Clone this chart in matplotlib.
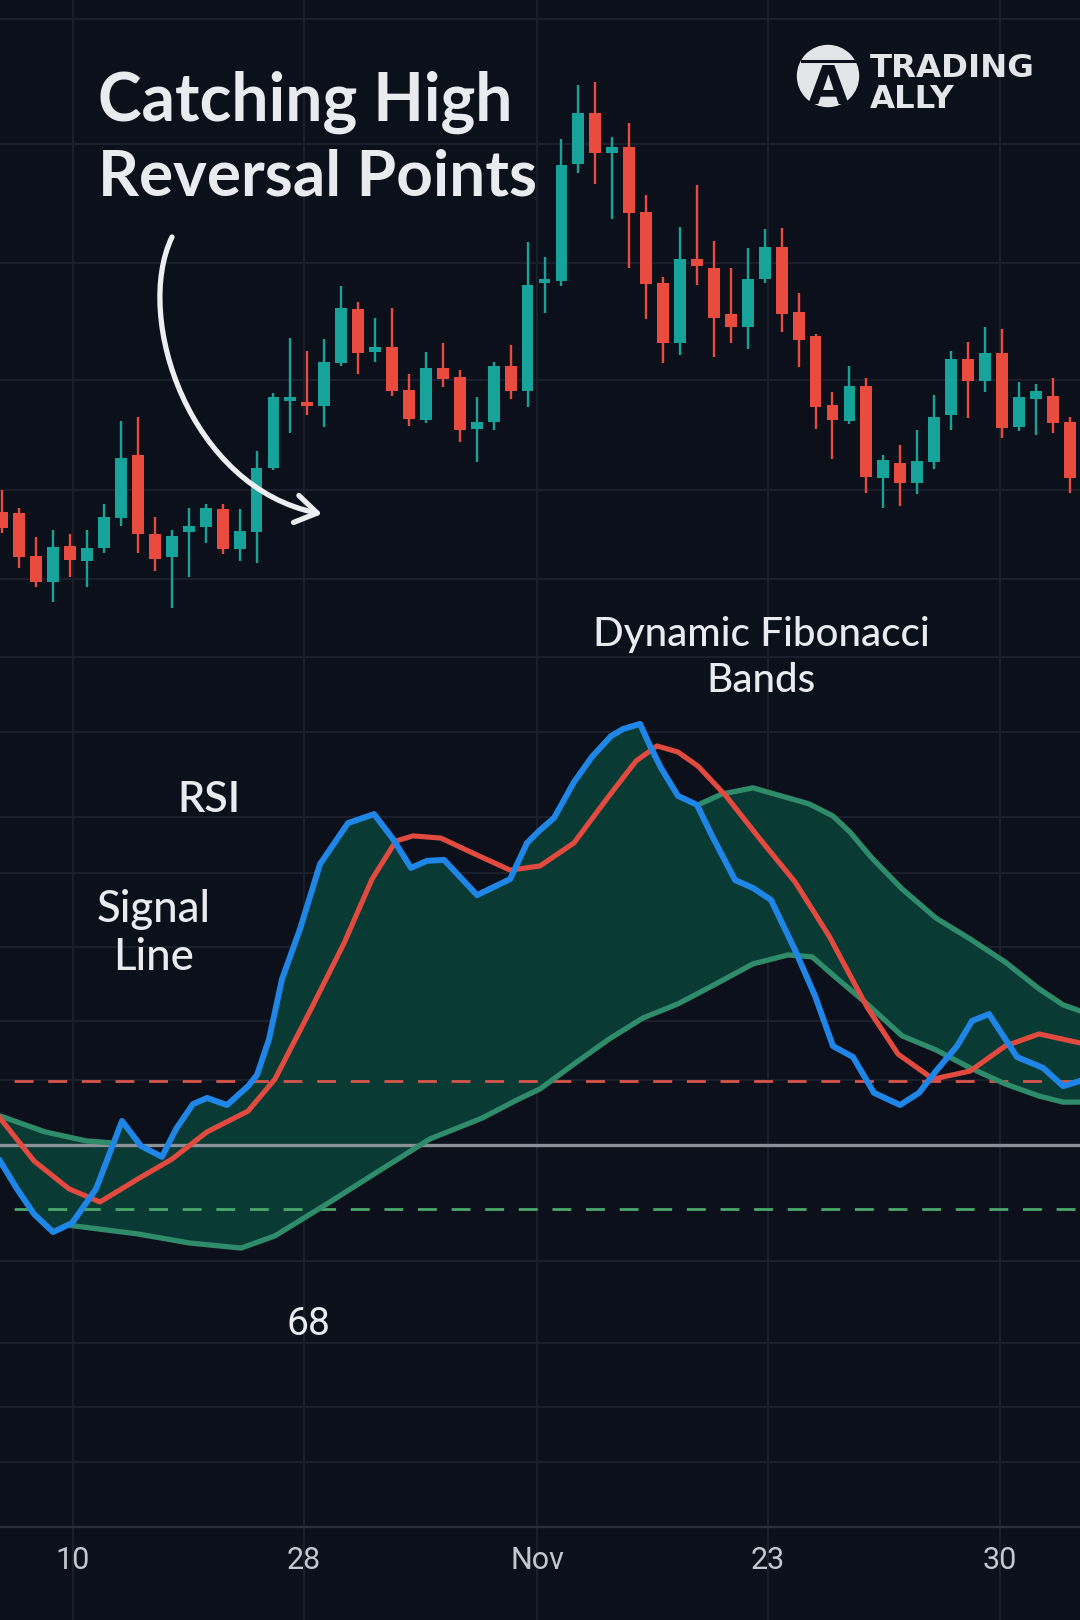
import numpy as np
import matplotlib
matplotlib.use("Agg")
import matplotlib.pyplot as plt
from matplotlib.path import Path
from matplotlib.patches import FancyArrowPatch, Circle

# ---------------- data ----------------
opens = [98.8, 98.7, 94.4, 91.8, 95.4, 93.9, 95.2, 98.2, 104.5, 96.6,
         94.3, 96.8, 97.3, 99.1, 95.1, 96.8, 103.2, 109.9, 109.8, 109.4,
         113.7, 119.1, 114.8, 115.3, 111.0, 108.0, 113.2, 112.3, 107.1, 107.8,
         113.4, 110.9, 121.7, 121.9, 133.6, 138.7, 134.7, 135.3, 128.8, 121.7,
         115.7, 124.1, 123.2, 118.6, 117.3, 122.1, 125.3, 118.8, 116.4, 109.5,
         107.9, 111.4, 102.2, 103.7, 101.7, 103.8, 108.5, 114.1, 111.9, 114.7,
         107.3, 110.1, 110.4, 107.8, 105.2]
highs = [101.0, 99.2, 96.3, 97.0, 96.6, 97.0, 99.6, 107.9, 108.3, 98.3,
         97.0, 99.2, 99.6, 99.6, 99.1, 104.9, 110.7, 116.2, 114.9, 116.1,
         121.4, 119.8, 118.2, 119.2, 112.6, 114.8, 115.7, 113.0, 110.3, 113.8,
         115.5, 125.8, 124.3, 136.1, 141.5, 141.8, 136.3, 137.7, 130.5, 122.3,
         127.3, 131.5, 125.9, 123.2, 125.2, 127.1, 127.2, 120.7, 116.6, 110.8,
         113.4, 112.2, 104.5, 105.5, 107.0, 110.5, 114.9, 115.8, 117.3, 117.1,
         111.8, 111.6, 112.2, 108.3, 110.0]
lows = [96.7, 93.2, 91.3, 89.8, 92.3, 91.3, 94.7, 97.4, 94.7, 92.9,
        89.2, 92.3, 95.7, 94.6, 93.9, 93.7, 103.0, 106.7, 108.5, 107.3,
        113.4, 112.6, 113.8, 110.4, 107.4, 107.7, 111.3, 105.8, 103.8, 107.0,
        110.1, 109.3, 118.7, 121.4, 132.7, 131.6, 128.1, 123.2, 118.1, 113.7,
        114.5, 121.5, 114.3, 115.7, 115.1, 121.7, 116.8, 113.3, 107.1, 104.1,
        107.6, 100.7, 99.2, 99.4, 100.6, 103.1, 107.0, 108.2, 110.8, 106.2,
        106.9, 106.5, 106.7, 100.7, 104.5]
closes = [97.2, 94.3, 91.8, 95.3, 94.0, 95.2, 98.3, 104.2, 96.6, 94.1,
          96.4, 97.4, 99.2, 95.1, 96.9, 103.2, 110.3, 110.3, 109.4, 113.8,
          119.2, 114.7, 115.3, 110.9, 108.1, 113.2, 112.1, 107.0, 107.8, 113.4,
          110.9, 121.5, 122.1, 133.5, 138.7, 134.7, 135.3, 128.7, 121.6, 115.7,
          124.1, 123.4, 118.2, 117.3, 122.1, 125.3, 118.6, 116.0, 109.3, 108.0,
          111.4, 102.3, 104.0, 101.7, 103.9, 108.3, 114.1, 111.9, 114.7, 107.2,
          110.3, 110.9, 107.7, 102.2, 108.0]

rsi_x = [-0.14, 0.86, 1.87, 2.99, 4.11, 5.53, 7.06, 8.18, 9.42, 10.25,
         11.25, 12.08, 13.26, 14.50, 15.03, 15.74, 16.51, 17.57, 18.75, 20.40,
         21.94, 23.06, 24.12, 25.06, 26.07, 28.02, 29.97, 30.97, 31.73, 32.56,
         33.74, 34.80, 35.93, 36.64, 37.64, 38.23, 38.88, 39.88, 41.00, 41.89,
         43.25, 44.31, 45.37, 46.79, 47.97, 49.03, 50.21, 51.45, 52.99, 54.11,
         55.11, 56.35, 57.24, 58.24, 59.89, 61.43, 62.61, 63.61]
rsi_y = [45.0, 36.3, 28.4, 22.8, 25.6, 36.3, 57.5, 49.7, 46.3, 55.0,
         62.8, 64.7, 62.5, 68.4, 71.9, 83.1, 101.9, 117.5, 137.8, 150.6,
         153.4, 145.6, 136.6, 138.8, 139.1, 128.1, 133.1, 144.4, 148.4, 152.2,
         163.4, 171.3, 177.8, 180.0, 181.6, 174.7, 167.8, 159.1, 156.3, 146.6,
         132.8, 130.3, 126.6, 110.9, 96.6, 80.9, 77.5, 66.3, 62.5, 66.3,
         73.1, 80.9, 88.8, 90.9, 77.5, 74.1, 68.4, 70.0]

signal_x = [-0.14, 1.87, 3.93, 5.76, 8.00, 10.01, 12.08, 14.50, 16.09, 18.16,
            20.17, 21.82, 23.23, 24.24, 25.89, 27.90, 29.97, 31.73, 33.74, 35.81,
            37.40, 38.64, 39.88, 41.06, 42.71, 44.72, 46.79, 48.80, 51.04, 52.87,
            54.94, 57.12, 59.19, 61.19, 63.61]
signal_y = [58.4, 45.0, 36.3, 32.2, 39.4, 45.6, 54.1, 60.6, 70.6, 91.9,
            113.1, 133.1, 145.0, 146.6, 145.9, 140.9, 135.9, 137.2, 144.4, 159.1,
            170.0, 174.7, 172.8, 168.4, 159.1, 145.6, 132.2, 115.3, 93.1, 78.4,
            70.6, 73.1, 80.9, 84.7, 81.9]

upper_x = [-0.14, 2.51, 4.94, 6.59, 24.0, 41.06, 42.48, 44.31, 45.96, 47.62,
           49.03, 50.03, 51.27, 53.11, 55.11, 57.12, 59.19, 61.19, 62.61, 63.61]
upper_y = [59.1, 54.1, 51.3, 50.6, np.nan, 156.3, 159.7, 161.6, 159.1, 156.6,
           152.8, 147.8, 140.0, 130.0, 120.9, 114.4, 107.2, 98.8, 93.8, 91.9]

lower_x = [3.81, 8.00, 11.01, 14.09, 16.09, 19.16, 22.23, 25.24, 28.31, 30.38,
           31.73, 33.74, 35.81, 37.81, 39.88, 41.89, 44.31, 46.38, 47.80, 49.03,
           51.04, 53.11, 55.11, 57.12, 59.19, 61.19, 62.61, 63.61]
lower_y = [25.0, 22.2, 19.4, 17.8, 21.6, 31.6, 41.9, 51.9, 58.4, 64.1,
           67.5, 75.3, 83.1, 89.7, 94.1, 99.7, 106.6, 109.4, 108.8, 103.1,
           94.1, 84.1, 79.7, 74.1, 69.1, 65.3, 63.4, 63.4]

levels = [70, 50, 30]
tick_pos = [4.17, 17.80, 31.56, 45.20, 58.89]
tick_labels = ["10", "28", "Nov", "23", "30"]

# ---------------- style ----------------
BG = "#0c101a"
GRID = "#1c212d"
TEAL = "#17a39a"
RED = "#e94b3e"
WHITE = "#e9ebef"

W, H = 1080, 1620
fig = plt.figure(figsize=(W / 100, H / 100), dpi=100, facecolor=BG)

XL = (-0.142, 63.61)
AX_BOTTOM_PX = 1527
rect = [0, (H - AX_BOTTOM_PX) / H, 1, AX_BOTTOM_PX / H]

# background grid axes (pixel y, index x)
ax_bg = fig.add_axes([0, 0, 1, 1], zorder=0)
ax_bg.set_xlim(*XL)
ax_bg.set_ylim(H, 0)
ax_bg.axis("off")
for yg in [19, 144, 263, 380, 490, 579, 657, 732, 817, 873, 947, 1021, 1080,
           1261, 1343, 1407, 1462]:
    ax_bg.axhline(yg, color=GRID, lw=1.3)
for t in tick_pos:
    ax_bg.axvline(t, color=GRID, lw=1.3)

# price axes
ax_p = fig.add_axes(rect, zorder=1)
ax_p.set_facecolor("none")
ax_p.set_xlim(*XL)
ax_p.set_ylim(150 - AX_BOTTOM_PX / 10, 150)
ax_p.axis("off")
o = np.array(opens); c = np.array(closes)
hi = np.array(highs); lo = np.array(lows)
xs = np.arange(len(o))
cols = [TEAL if cc >= oo else RED for oo, cc in zip(o, c)]
ax_p.vlines(xs, lo, hi, colors=cols, lw=1.7, zorder=3)
ax_p.bar(xs, np.maximum(np.abs(c - o), 0.35), bottom=np.minimum(o, c),
         width=0.7, color=cols, lw=0, zorder=4)

# indicator axes
ax_i = fig.add_axes(rect, zorder=2)
ax_i.set_facecolor("none")
ax_i.set_xlim(*XL)
ax_i.set_ylim(50 - (AX_BOTTOM_PX - 1145) / 3.2, 50 + 1145 / 3.2)

grid_x = np.linspace(XL[0], XL[1], 1200)
rsi_i = np.interp(grid_x, rsi_x, rsi_y)
up_i = np.interp(grid_x, upper_x, upper_y)
lo_i = np.interp(grid_x, lower_x, lower_y, left=np.nan)
top = np.where(np.isnan(up_i), rsi_i, up_i)
bot = np.where(np.isnan(lo_i), rsi_i, lo_i)
ax_i.fill_between(grid_x, bot, top, color="#093a34", lw=0, zorder=1)

ax_i.axhline(levels[1], color="#8b8f98", lw=2.4, zorder=2)
ax_i.axhline(levels[0], color="#d9554b", lw=2.0, ls=(7.0, (6.8, 5.3)), zorder=2)
ax_i.axhline(levels[2], color="#4aa86a", lw=2.0, ls=(7.0, (6.8, 5.3)), zorder=2)

ax_i.plot(upper_x, upper_y, color="#2e8c6b", lw=3.8, zorder=3,
          solid_capstyle="round", solid_joinstyle="round")
ax_i.plot(lower_x, lower_y, color="#2e8c6b", lw=3.8, zorder=3,
          solid_capstyle="round", solid_joinstyle="round")
ax_i.plot(signal_x, signal_y, color="#e34a3f", lw=3.7, zorder=4,
          solid_joinstyle="round")
ax_i.plot(rsi_x, rsi_y, color="#1f86e8", lw=4.3, zorder=5,
          solid_joinstyle="round")

for s in ["top", "left", "right"]:
    ax_i.spines[s].set_visible(False)
ax_i.spines["bottom"].set_color("#2a303c")
ax_i.spines["bottom"].set_linewidth(1.6)
ax_i.set_yticks([])
ax_i.set_xticks(tick_pos, tick_labels)
ax_i.tick_params(axis="x", length=0, pad=14, labelsize=22, labelcolor="#c3c8d0")
for lab in ax_i.get_xticklabels():
    lab.set_family(["Roboto", "DejaVu Sans"])

# annotation axes (pixels)
ax_a = fig.add_axes([0, 0, 1, 1], zorder=3)
ax_a.set_facecolor("none")
ax_a.set_xlim(0, W)
ax_a.set_ylim(H, 0)
ax_a.axis("off")

TF = ["Lato", "DejaVu Sans"]
t1 = ax_a.text(98, 121, "Catching High", color=WHITE, fontsize=44,
               fontweight="bold", family=TF, ha="left", va="baseline")
t2 = ax_a.text(98, 196, "Reversal Points", color=WHITE, fontsize=44,
               fontweight="bold", family=TF, ha="left", va="baseline")
t_rsi = ax_a.text(177, 812, "RSI", color=WHITE, fontsize=30,
                  fontweight="semibold", family=TF, ha="left", va="baseline")
t_sig1 = ax_a.text(154, 922, "Signal", color=WHITE, fontsize=28,
                   fontweight="medium", family=TF, ha="center", va="baseline")
t_sig2 = ax_a.text(154, 970, "Line", color=WHITE, fontsize=28,
                   fontweight="medium", family=TF, ha="center", va="baseline")
t_df1 = ax_a.text(761, 646, "Dynamic Fibonacci", color=WHITE, fontsize=26,
                  fontweight="medium", family=TF, ha="center", va="baseline")
t_df2 = ax_a.text(761, 692, "Bands", color=WHITE, fontsize=26,
                  fontweight="medium", family=TF, ha="center", va="baseline")
t_68 = ax_a.text(308, 1335, "68", color=WHITE, fontsize=27,
                 family=["Roboto", "DejaVu Sans"], ha="center", va="baseline")
t_tr = ax_a.text(870, 77, "TRADING", color="#e3e5e9", fontsize=24,
                 fontweight="bold", family=["DejaVu Sans"], ha="left", va="baseline")
t_al = ax_a.text(870, 108, "ALLY", color="#e3e5e9", fontsize=24,
                 fontweight="bold", family=["DejaVu Sans"], ha="left", va="baseline")

# logo
ax_a.add_patch(Circle((828, 76), 30.5, color="#e3e5e9", zorder=5))
ax_a.plot([801.5, 854.5], [61, 61], color=BG, lw=2.2, zorder=6)
ax_a.text(828, 104, "A", color=BG, fontsize=38, fontweight="bold",
          family=["DejaVu Sans"], ha="center", va="baseline", zorder=7)

# curved arrow
verts = [(172, 237), (133, 318), (190, 488), (322, 514)]
codes = [Path.MOVETO, Path.CURVE4, Path.CURVE4, Path.CURVE4]
arrow = FancyArrowPatch(path=Path(verts, codes),
                        arrowstyle="->,head_length=0.7,head_width=0.45",
                        mutation_scale=22, color="#eceef1", lw=3.8,
                        capstyle="round", joinstyle="round", zorder=8)
ax_a.add_patch(arrow)

# fit text widths to the reference
fig.canvas.draw()
rend = fig.canvas.get_renderer()


def fit(txt, width_px):
    bb = txt.get_window_extent(rend)
    txt.set_fontsize(txt.get_fontsize() * width_px / bb.width)


fit(t1, 414)
fit(t2, 439)
fit(t_rsi, 63)
fit(t_sig1, 114)
t_sig2.set_fontsize(t_sig1.get_fontsize())
fit(t_df1, 338)
t_df2.set_fontsize(t_df1.get_fontsize())
fit(t_68, 44)
fit(t_tr, 165)
t_al.set_fontsize(t_tr.get_fontsize())

fig.savefig("out.png", dpi=100, facecolor=BG)
